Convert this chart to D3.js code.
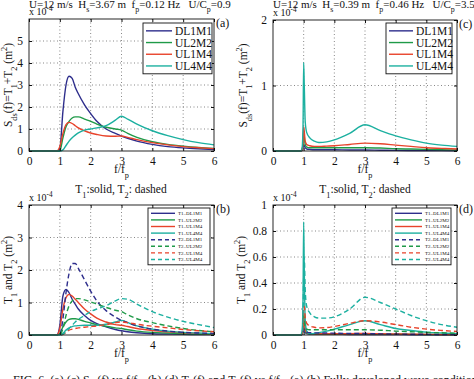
<!DOCTYPE html>
<html>
<head>
<meta charset="utf-8">
<script src="https://cdn.jsdelivr.net/npm/d3@7"></script>
<style>
  body { margin: 0; background: #fff; }
  svg { display: block; }
  text { font-family: "Liberation Serif", "DejaVu Serif", serif; fill: #111; white-space: pre; }
</style>
</head>
<body>
<div id="canvas"></div>
<script>
// x grids (f/fp)
var xA = [0, 0.9, 1.0, 1.1, 1.2, 1.3, 1.4, 1.5, 1.6, 1.8, 2.0, 2.2, 2.5, 2.8, 3.0, 3.2, 3.5, 4.0, 4.5, 5.0, 5.5, 6.0];
var xC = [0, 0.9, 0.95, 0.98, 1.0, 1.02, 1.05, 1.1, 1.2, 1.35, 1.5, 1.75, 2.0, 2.5, 3.0, 3.5, 4.0, 4.5, 5.0, 5.5, 6.0];

var runs = ['DL1M1', 'UL2M2', 'UL1M4', 'UL4M4'];
var runColors = ['#2e2e8c', '#1f9a48', '#e8432b', '#1cb0a0'];

// (a) Sds, x 1e-4
var sA_DL1M1 = [0, 0, 0.1, 1.8, 3.0, 3.4, 3.3, 2.9, 2.6, 2.1, 1.7, 1.35, 1.0, 0.8, 0.68, 0.58, 0.45, 0.3, 0.2, 0.14, 0.1, 0.07];
var sA_UL2M2 = [0, 0, 0, 0.6, 1.1, 1.35, 1.5, 1.55, 1.55, 1.45, 1.35, 1.22, 1.08, 1.0, 0.95, 0.8, 0.62, 0.42, 0.3, 0.22, 0.16, 0.12];
var sA_UL1M4 = [0, 0, 0.2, 0.8, 1.2, 1.3, 1.25, 1.15, 1.05, 0.92, 0.82, 0.75, 0.68, 0.67, 0.68, 0.62, 0.52, 0.38, 0.28, 0.2, 0.15, 0.11];
var sA_UL4M4 = [0, 0, 0, 0.05, 0.25, 0.45, 0.6, 0.72, 0.82, 0.95, 1.0, 1.05, 1.15, 1.4, 1.58, 1.45, 1.22, 0.92, 0.7, 0.52, 0.38, 0.28];

// (c) Sds, x 1e-4
var sC_DL1M1 = [0, 0, 0.01, 0.05, 0.1, 0.08, 0.05, 0.03, 0.025, 0.02, 0.02, 0.02, 0.02, 0.015, 0.015, 0.012, 0.01, 0.008, 0.006, 0.005, 0.004];
var sC_UL2M2 = [0, 0, 0.02, 0.12, 0.3, 0.22, 0.1, 0.06, 0.05, 0.05, 0.05, 0.05, 0.05, 0.05, 0.05, 0.045, 0.035, 0.03, 0.025, 0.02, 0.015];
var sC_UL1M4 = [0, 0, 0.02, 0.15, 0.37, 0.3, 0.15, 0.1, 0.08, 0.07, 0.07, 0.075, 0.08, 0.1, 0.12, 0.11, 0.09, 0.07, 0.05, 0.04, 0.03];
var sC_UL4M4 = [0, 0, 0.05, 0.4, 1.35, 1.0, 0.45, 0.28, 0.2, 0.15, 0.13, 0.14, 0.17, 0.27, 0.4, 0.31, 0.23, 0.17, 0.12, 0.09, 0.07];

// (b) T1 / T2, x 1e-4
var t1B_DL1M1 = [0, 0, 0.3, 1.2, 1.4, 1.3, 1.1, 0.95, 0.8, 0.6, 0.45, 0.35, 0.25, 0.17, 0.13, 0.1, 0.07, 0.04, 0.03, 0.02, 0.015, 0.01];
var t1B_UL2M2 = [0, 0, 0.05, 0.25, 0.4, 0.48, 0.5, 0.5, 0.48, 0.42, 0.37, 0.32, 0.27, 0.22, 0.2, 0.16, 0.12, 0.08, 0.06, 0.04, 0.03, 0.02];
var t1B_UL1M4 = [0, 0, 0.2, 0.8, 1.15, 1.25, 1.2, 1.1, 1.0, 0.8, 0.65, 0.52, 0.4, 0.32, 0.3, 0.26, 0.2, 0.14, 0.1, 0.07, 0.05, 0.04];
var t1B_UL4M4 = [0, 0, 0, 0.05, 0.15, 0.22, 0.26, 0.28, 0.29, 0.3, 0.3, 0.3, 0.33, 0.4, 0.45, 0.38, 0.28, 0.18, 0.12, 0.08, 0.06, 0.04];
var t2B_DL1M1 = [0, 0, 0, 0.5, 1.3, 1.9, 2.2, 2.2, 2.05, 1.7, 1.35, 1.05, 0.75, 0.55, 0.45, 0.38, 0.28, 0.18, 0.12, 0.08, 0.06, 0.05];
var t2B_UL2M2 = [0, 0, 0, 0.2, 0.6, 0.9, 1.05, 1.12, 1.12, 1.08, 1.02, 0.95, 0.85, 0.76, 0.72, 0.62, 0.5, 0.38, 0.28, 0.2, 0.14, 0.1];
var t2B_UL1M4 = [0, 0, 0, 0.02, 0.08, 0.15, 0.18, 0.2, 0.22, 0.24, 0.26, 0.28, 0.32, 0.38, 0.4, 0.38, 0.33, 0.27, 0.22, 0.17, 0.13, 0.1];
var t2B_UL4M4 = [0, 0, 0, 0.03, 0.1, 0.2, 0.3, 0.4, 0.48, 0.6, 0.72, 0.8, 0.9, 1.05, 1.12, 1.1, 0.95, 0.72, 0.55, 0.42, 0.32, 0.23];

// (d) T1 / T2, x 1e-4
var t1D_DL1M1 = [0, 0, 0.005, 0.03, 0.05, 0.04, 0.02, 0.01, 0.006, 0.005, 0.005, 0.005, 0.005, 0.004, 0.004, 0.003, 0.003, 0.002, 0.002, 0.001, 0.001];
var t1D_UL2M2 = [0, 0, 0.01, 0.06, 0.14, 0.1, 0.04, 0.015, 0.01, 0.008, 0.008, 0.008, 0.008, 0.009, 0.01, 0.008, 0.006, 0.005, 0.004, 0.003, 0.002];
var t1D_UL1M4 = [0, 0, 0.01, 0.06, 0.14, 0.1, 0.04, 0.02, 0.012, 0.01, 0.01, 0.01, 0.01, 0.01, 0.012, 0.01, 0.008, 0.006, 0.005, 0.004, 0.003];
var t1D_UL4M4 = [0, 0, 0.03, 0.3, 0.87, 0.5, 0.12, 0.03, 0.01, 0.012, 0.018, 0.03, 0.045, 0.08, 0.11, 0.08, 0.05, 0.035, 0.022, 0.015, 0.01];
var t2D_DL1M1 = [0, 0, 0.005, 0.02, 0.05, 0.04, 0.03, 0.02, 0.018, 0.016, 0.015, 0.015, 0.014, 0.012, 0.011, 0.009, 0.007, 0.006, 0.005, 0.004, 0.003];
var t2D_UL2M2 = [0, 0, 0.01, 0.06, 0.16, 0.12, 0.06, 0.045, 0.04, 0.04, 0.04, 0.04, 0.04, 0.04, 0.04, 0.037, 0.03, 0.025, 0.02, 0.017, 0.013];
var t2D_UL1M4 = [0, 0, 0.01, 0.08, 0.2, 0.22, 0.14, 0.09, 0.07, 0.06, 0.055, 0.057, 0.065, 0.09, 0.11, 0.1, 0.08, 0.06, 0.045, 0.035, 0.027];
var t2D_UL4M4 = [0, 0, 0.02, 0.15, 0.45, 0.6, 0.35, 0.22, 0.17, 0.14, 0.13, 0.13, 0.14, 0.2, 0.29, 0.25, 0.2, 0.15, 0.11, 0.08, 0.06];

var xTicks = [0, 1, 2, 3, 4, 5, 6];
var yTicksA = [0, 1, 2, 3, 4, 5];
var yTicksB = [0, 1, 2, 3, 4];
var yTicksC = [0, 1, 2];
var yTicksD = [0, 0.2, 0.4, 0.6, 0.8, 1];

var svg = d3.select('#canvas').append('svg')
    .attr('width', 474)
    .attr('height', 379);

// text with sub/superscripts; parts = strings or [str, 'sub'|'sup']
function rich(g, x, y, parts, size, anchor, rotate) {
    var t = g.append('text')
        .attr('x', x).attr('y', y)
        .attr('font-size', size)
        .attr('text-anchor', anchor || 'start');
    if (rotate) t.attr('transform', 'rotate(' + rotate + ',' + x + ',' + y + ')');
    var shift = 0;
    parts.forEach(function (p) {
        var s = typeof p === 'string' ? p : p[0];
        var mode = typeof p === 'string' ? null : p[1];
        var target = mode === 'sub' ? size * 0.4 : (mode === 'sup' ? -size * 0.45 : 0);
        t.append('tspan')
            .attr('dy', target - shift)
            .attr('font-size', mode ? size * 0.72 : size)
            .text(s);
        shift = target;
    });
    return t;
}

function drawPanel(p) {
    var g = svg.append('g');
    var x = d3.scaleLinear().domain([0, 6]).range([p.x0, p.x1]);
    var y = d3.scaleLinear().domain([0, p.ymax]).range([p.y1, p.y0]);

    // dotted grid
    xTicks.slice(1, -1).forEach(function (v) {
        g.append('line').attr('x1', x(v)).attr('x2', x(v)).attr('y1', p.y0).attr('y2', p.y1)
            .attr('stroke', '#555').attr('stroke-width', 0.7).attr('stroke-dasharray', '1,2.5');
    });
    p.yTicks.forEach(function (v) {
        if (v === 0 || v === p.ymax) return;
        g.append('line').attr('x1', p.x0).attr('x2', p.x1).attr('y1', y(v)).attr('y2', y(v))
            .attr('stroke', '#555').attr('stroke-width', 0.7).attr('stroke-dasharray', '1,2.5');
    });

    // curves
    var line = d3.line()
        .x(function (d) { return x(d[0]); })
        .y(function (d) { return y(d[1]); })
        .curve(d3.curveMonotoneX);
    p.series.forEach(function (s) {
        g.append('path')
            .datum(p.xs.map(function (v, i) { return [v, s.values[i]]; }))
            .attr('d', line)
            .attr('fill', 'none')
            .attr('stroke', s.color)
            .attr('stroke-width', 1.4)
            .attr('stroke-dasharray', s.dashed ? '5,3' : null);
    });

    // box
    g.append('rect').attr('x', p.x0).attr('y', p.y0)
        .attr('width', p.x1 - p.x0).attr('height', p.y1 - p.y0)
        .attr('fill', 'none').attr('stroke', '#111').attr('stroke-width', 0.9);

    // axes (ticks inside, like matlab)
    var bottom = d3.axisBottom(x).tickValues(xTicks).tickSizeInner(-3).tickSizeOuter(0).tickPadding(6)
        .tickFormat(d3.format('d'));
    var top = d3.axisTop(x).tickValues(xTicks).tickSizeInner(-3).tickSizeOuter(0).tickFormat('');
    var left = d3.axisLeft(y).tickValues(p.yTicks).tickSizeInner(-3).tickSizeOuter(0).tickPadding(6)
        .tickFormat(d3.format('~g'));
    var right = d3.axisRight(y).tickValues(p.yTicks).tickSizeInner(-3).tickSizeOuter(0).tickFormat('');
    [[bottom, 'translate(0,' + p.y1 + ')'], [top, 'translate(0,' + p.y0 + ')'],
     [left, 'translate(' + p.x0 + ',0)'], [right, 'translate(' + p.x1 + ',0)']].forEach(function (a) {
        var ax = g.append('g').attr('transform', a[1]).call(a[0]);
        ax.select('.domain').remove();
        ax.selectAll('line').attr('stroke', '#111');
        ax.selectAll('text').attr('font-family', '"Liberation Serif", serif')
            .attr('font-size', 11.5).attr('fill', '#111');
    });

    // labels
    rich(g, p.x0, p.y0 - 4, ['x 10', ['-4', 'sup']], 10);
    rich(g, (p.x0 + p.x1) / 2, p.y1 + 22, ['f/f', ['p', 'sub']], 11.5, 'middle');
    rich(g, p.ylabX, (p.y0 + p.y1) / 2, p.ylab, 11.5, 'middle', -90);
    g.append('text').attr('x', p.x1 + 2).attr('y', p.y0 + 8).attr('font-size', 12).text(p.tag);

    // legend
    var L = p.legend;
    var n = p.series.length;
    g.append('rect').attr('x', L.x).attr('y', L.y).attr('width', L.w).attr('height', L.rowH * n + 4)
        .attr('fill', '#fff').attr('stroke', '#111').attr('stroke-width', 0.9);
    p.series.forEach(function (s, i) {
        var cy = L.y + 2 + L.rowH * (i + 0.5);
        g.append('line').attr('x1', L.x + 3).attr('x2', L.x + 3 + L.lineW)
            .attr('y1', cy).attr('y2', cy)
            .attr('stroke', s.color).attr('stroke-width', 1.4)
            .attr('stroke-dasharray', s.dashed ? '4,3' : null);
        g.append('text').attr('x', L.x + 6 + L.lineW).attr('y', cy + L.font * 0.35)
            .attr('font-size', L.font).text(s.name);
    });
}

function sdsSeries(arrs) {
    return arrs.map(function (a, i) { return {name: runs[i], color: runColors[i], values: a, dashed: false}; });
}
function tSeries(t1, t2) {
    var out = [];
    t1.forEach(function (a, i) { out.push({name: 'T1\u2013' + runs[i], color: runColors[i], values: a, dashed: false}); });
    t2.forEach(function (a, i) { out.push({name: 'T2\u2013' + runs[i], color: runColors[i], values: a, dashed: true}); });
    return out;
}

var sdsLab = ['S', ['ds', 'sub'], '(f)=T', ['1', 'sub'], '+T', ['2', 'sub'], ' (m', ['2', 'sup'], ')'];
var tLab = ['T', ['1', 'sub'], ' and T', ['2', 'sub'], ' (m', ['2', 'sup'], ')'];

drawPanel({x0: 29, x1: 214, y0: 19, y1: 151, ymax: 6, yTicks: yTicksA, xs: xA, tag: '(a)',
    ylab: sdsLab, ylabX: 12,
    series: sdsSeries([sA_DL1M1, sA_UL2M2, sA_UL1M4, sA_UL4M4]),
    legend: {x: 143, y: 23, w: 69, rowH: 11.7, lineW: 26, font: 11.5}});
drawPanel({x0: 273, x1: 457, y0: 20, y1: 151, ymax: 2, yTicks: yTicksC, xs: xC, tag: '(c)',
    ylab: sdsLab, ylabX: 247,
    series: sdsSeries([sC_DL1M1, sC_UL2M2, sC_UL1M4, sC_UL4M4]),
    legend: {x: 386, y: 23, w: 66, rowH: 11.7, lineW: 24, font: 11.5}});
drawPanel({x0: 29, x1: 214, y0: 205, y1: 335, ymax: 4, yTicks: yTicksB, xs: xA, tag: '(b)',
    ylab: tLab, ylabX: 12,
    series: tSeries([t1B_DL1M1, t1B_UL2M2, t1B_UL1M4, t1B_UL4M4], [t2B_DL1M1, t2B_UL2M2, t2B_UL1M4, t2B_UL4M4]),
    legend: {x: 148, y: 208, w: 62, rowH: 6.6, lineW: 24, font: 5}});
drawPanel({x0: 273, x1: 457, y0: 205, y1: 335, ymax: 1, yTicks: yTicksD, xs: xC, tag: '(d)',
    ylab: tLab, ylabX: 245,
    series: tSeries([t1D_DL1M1, t1D_UL2M2, t1D_UL1M4, t1D_UL4M4], [t2D_DL1M1, t2D_UL2M2, t2D_UL1M4, t2D_UL4M4]),
    legend: {x: 392, y: 208, w: 59, rowH: 6.6, lineW: 27, font: 5}});

// titles
rich(svg, 29, 8, ['U=12 m/s  H', ['s', 'sub'], '=3.67 m  f', ['p', 'sub'], '=0.12 Hz   U/C', ['p', 'sub'], '=0.9'], 11);
rich(svg, 273, 8, ['U=12 m/s  H', ['s', 'sub'], '=0.39 m  f', ['p', 'sub'], '=0.46 Hz   U/C', ['p', 'sub'], '=3.5'], 11);
rich(svg, 121, 193, ['T', ['1', 'sub'], ':solid, T', ['2', 'sub'], ': dashed'], 11.5, 'middle');
rich(svg, 365, 193, ['T', ['1', 'sub'], ':solid, T', ['2', 'sub'], ': dashed'], 11.5, 'middle');

// caption (cut by the page edge)
rich(svg, 13, 384, ['FIG. 6. (a) (c) S', ['ds', 'sub'], '(f) vs f/f', ['p', 'sub'],
    '. (b) (d) T', ['1', 'sub'], '(f) and T', ['2', 'sub'], '(f) vs f/f', ['p', 'sub'],
    '. (a) (b) Fully developed wave conditions'], 12);
</script>
</body>
</html>
